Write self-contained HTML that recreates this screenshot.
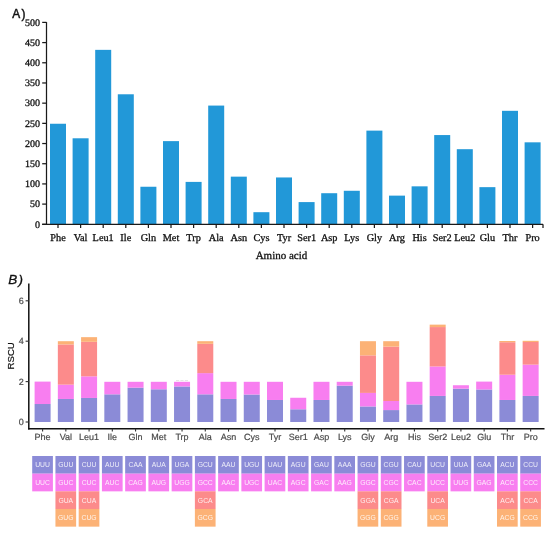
<!DOCTYPE html><html><head><meta charset="utf-8"><style>html,body{margin:0;padding:0;background:#fff;width:550px;height:535px;overflow:hidden}svg{display:block;will-change:transform}</style></head><body>
<svg width="550" height="535" viewBox="0 0 550 535">
<rect width="550" height="535" fill="#fff"/>
<text transform="translate(12.2,18.1) scale(0.9,1)" x="0" y="0" font-family="Liberation Sans, sans-serif" font-size="13.2" letter-spacing="1.6" fill="#111" stroke="#111" stroke-width="0.5">A)</text>
<rect x="50.00" y="123.75" width="16.0" height="100.55" fill="#2298d8"/>
<rect x="72.60" y="138.29" width="16.0" height="86.01" fill="#2298d8"/>
<rect x="95.20" y="49.86" width="16.0" height="174.44" fill="#2298d8"/>
<rect x="117.80" y="94.28" width="16.0" height="130.02" fill="#2298d8"/>
<rect x="140.40" y="186.75" width="16.0" height="37.55" fill="#2298d8"/>
<rect x="163.00" y="141.12" width="16.0" height="83.18" fill="#2298d8"/>
<rect x="185.60" y="181.90" width="16.0" height="42.40" fill="#2298d8"/>
<rect x="208.20" y="105.58" width="16.0" height="118.72" fill="#2298d8"/>
<rect x="230.80" y="176.65" width="16.0" height="47.65" fill="#2298d8"/>
<rect x="253.40" y="212.19" width="16.0" height="12.11" fill="#2298d8"/>
<rect x="276.00" y="177.46" width="16.0" height="46.84" fill="#2298d8"/>
<rect x="298.60" y="202.09" width="16.0" height="22.21" fill="#2298d8"/>
<rect x="321.20" y="193.21" width="16.0" height="31.09" fill="#2298d8"/>
<rect x="343.80" y="190.78" width="16.0" height="33.52" fill="#2298d8"/>
<rect x="366.40" y="130.62" width="16.0" height="93.68" fill="#2298d8"/>
<rect x="389.00" y="195.63" width="16.0" height="28.67" fill="#2298d8"/>
<rect x="411.60" y="186.34" width="16.0" height="37.96" fill="#2298d8"/>
<rect x="434.20" y="135.06" width="16.0" height="89.24" fill="#2298d8"/>
<rect x="456.80" y="149.19" width="16.0" height="75.11" fill="#2298d8"/>
<rect x="479.40" y="187.15" width="16.0" height="37.15" fill="#2298d8"/>
<rect x="502.00" y="110.83" width="16.0" height="113.47" fill="#2298d8"/>
<rect x="524.60" y="142.33" width="16.0" height="81.97" fill="#2298d8"/>
<g stroke="#1a1a1a" stroke-width="1.25" fill="none">
<line x1="46.5" y1="22.1" x2="46.5" y2="224.3"/>
<line x1="42.2" y1="224.3" x2="543" y2="224.3"/>
<line x1="42.2" y1="224.30" x2="46.5" y2="224.30"/>
<line x1="42.2" y1="204.11" x2="46.5" y2="204.11"/>
<line x1="42.2" y1="183.92" x2="46.5" y2="183.92"/>
<line x1="42.2" y1="163.73" x2="46.5" y2="163.73"/>
<line x1="42.2" y1="143.54" x2="46.5" y2="143.54"/>
<line x1="42.2" y1="123.35" x2="46.5" y2="123.35"/>
<line x1="42.2" y1="103.16" x2="46.5" y2="103.16"/>
<line x1="42.2" y1="82.97" x2="46.5" y2="82.97"/>
<line x1="42.2" y1="62.78" x2="46.5" y2="62.78"/>
<line x1="42.2" y1="42.59" x2="46.5" y2="42.59"/>
<line x1="42.2" y1="22.40" x2="46.5" y2="22.40"/>
<line x1="58.00" y1="224.3" x2="58.00" y2="228"/>
<line x1="80.60" y1="224.3" x2="80.60" y2="228"/>
<line x1="103.20" y1="224.3" x2="103.20" y2="228"/>
<line x1="125.80" y1="224.3" x2="125.80" y2="228"/>
<line x1="148.40" y1="224.3" x2="148.40" y2="228"/>
<line x1="171.00" y1="224.3" x2="171.00" y2="228"/>
<line x1="193.60" y1="224.3" x2="193.60" y2="228"/>
<line x1="216.20" y1="224.3" x2="216.20" y2="228"/>
<line x1="238.80" y1="224.3" x2="238.80" y2="228"/>
<line x1="261.40" y1="224.3" x2="261.40" y2="228"/>
<line x1="284.00" y1="224.3" x2="284.00" y2="228"/>
<line x1="306.60" y1="224.3" x2="306.60" y2="228"/>
<line x1="329.20" y1="224.3" x2="329.20" y2="228"/>
<line x1="351.80" y1="224.3" x2="351.80" y2="228"/>
<line x1="374.40" y1="224.3" x2="374.40" y2="228"/>
<line x1="397.00" y1="224.3" x2="397.00" y2="228"/>
<line x1="419.60" y1="224.3" x2="419.60" y2="228"/>
<line x1="442.20" y1="224.3" x2="442.20" y2="228"/>
<line x1="464.80" y1="224.3" x2="464.80" y2="228"/>
<line x1="487.40" y1="224.3" x2="487.40" y2="228"/>
<line x1="510.00" y1="224.3" x2="510.00" y2="228"/>
<line x1="532.60" y1="224.3" x2="532.60" y2="228"/>
<line x1="543" y1="224.3" x2="543" y2="228"/>
</g>
<g font-family="Liberation Serif, serif" font-size="10" fill="#111" stroke="#111" stroke-width="0.3" text-rendering="geometricPrecision" text-anchor="end">
<text x="40" y="227.60">0</text>
<text x="40" y="207.41">50</text>
<text x="40" y="187.22">100</text>
<text x="40" y="167.03">150</text>
<text x="40" y="146.84">200</text>
<text x="40" y="126.65">250</text>
<text x="40" y="106.46">300</text>
<text x="40" y="86.27">350</text>
<text x="40" y="66.08">400</text>
<text x="40" y="45.89">450</text>
<text x="40" y="25.70">500</text>
</g>
<g font-family="Liberation Serif, serif" font-size="10.3" fill="#111" stroke="#111" stroke-width="0.3" text-rendering="geometricPrecision" text-anchor="middle">
<text x="58.00" y="240.5">Phe</text>
<text x="80.60" y="240.5">Val</text>
<text x="103.20" y="240.5">Leu1</text>
<text x="125.80" y="240.5">Ile</text>
<text x="148.40" y="240.5">Gln</text>
<text x="171.00" y="240.5">Met</text>
<text x="193.60" y="240.5">Trp</text>
<text x="216.20" y="240.5">Ala</text>
<text x="238.80" y="240.5">Asn</text>
<text x="261.40" y="240.5">Cys</text>
<text x="284.00" y="240.5">Tyr</text>
<text x="306.60" y="240.5">Ser1</text>
<text x="329.20" y="240.5">Asp</text>
<text x="351.80" y="240.5">Lys</text>
<text x="374.40" y="240.5">Gly</text>
<text x="397.00" y="240.5">Arg</text>
<text x="419.60" y="240.5">His</text>
<text x="442.20" y="240.5">Ser2</text>
<text x="464.80" y="240.5">Leu2</text>
<text x="487.40" y="240.5">Glu</text>
<text x="510.00" y="240.5">Thr</text>
<text x="532.60" y="240.5">Pro</text>
</g>
<text x="281.5" y="259" font-family="Liberation Serif, serif" font-size="11" fill="#111" stroke="#111" stroke-width="0.3" text-rendering="geometricPrecision" text-anchor="middle">Amino acid</text>
<text x="8.3" y="283.8" font-family="Liberation Sans, sans-serif" font-style="italic" font-size="13.5" letter-spacing="1.2" fill="#111" stroke="#111" stroke-width="0.3">B)</text>
<rect x="34.60" y="404.02" width="16.0" height="17.98" fill="#8b8bd7"/>
<rect x="34.60" y="381.60" width="16.0" height="22.42" fill="#f87ef0"/>
<rect x="57.84" y="398.97" width="16.0" height="23.03" fill="#8b8bd7"/>
<rect x="57.84" y="384.63" width="16.0" height="14.34" fill="#f87ef0"/>
<rect x="57.84" y="344.43" width="16.0" height="40.20" fill="#fc8b8b"/>
<rect x="57.84" y="341.20" width="16.0" height="3.23" fill="#fcb276"/>
<rect x="81.08" y="397.96" width="16.0" height="24.04" fill="#8b8bd7"/>
<rect x="81.08" y="376.35" width="16.0" height="21.61" fill="#f87ef0"/>
<rect x="81.08" y="341.81" width="16.0" height="34.54" fill="#fc8b8b"/>
<rect x="81.08" y="337.16" width="16.0" height="4.65" fill="#fcb276"/>
<rect x="104.32" y="394.33" width="16.0" height="27.67" fill="#8b8bd7"/>
<rect x="104.32" y="381.80" width="16.0" height="12.52" fill="#f87ef0"/>
<rect x="127.56" y="387.66" width="16.0" height="34.34" fill="#8b8bd7"/>
<rect x="127.56" y="381.80" width="16.0" height="5.86" fill="#f87ef0"/>
<rect x="150.80" y="389.28" width="16.0" height="32.72" fill="#8b8bd7"/>
<rect x="150.80" y="381.80" width="16.0" height="7.47" fill="#f87ef0"/>
<rect x="174.04" y="386.45" width="16.0" height="35.55" fill="#8b8bd7"/>
<rect x="174.04" y="381.80" width="16.0" height="4.65" fill="#f87ef0"/>
<rect x="197.28" y="394.33" width="16.0" height="27.67" fill="#8b8bd7"/>
<rect x="197.28" y="373.12" width="16.0" height="21.21" fill="#f87ef0"/>
<rect x="197.28" y="343.83" width="16.0" height="29.29" fill="#fc8b8b"/>
<rect x="197.28" y="341.20" width="16.0" height="2.63" fill="#fcb276"/>
<rect x="220.52" y="398.97" width="16.0" height="23.03" fill="#8b8bd7"/>
<rect x="220.52" y="381.80" width="16.0" height="17.17" fill="#f87ef0"/>
<rect x="243.76" y="394.53" width="16.0" height="27.47" fill="#8b8bd7"/>
<rect x="243.76" y="381.80" width="16.0" height="12.73" fill="#f87ef0"/>
<rect x="267.00" y="399.98" width="16.0" height="22.02" fill="#8b8bd7"/>
<rect x="267.00" y="381.80" width="16.0" height="18.18" fill="#f87ef0"/>
<rect x="290.24" y="409.27" width="16.0" height="12.73" fill="#8b8bd7"/>
<rect x="290.24" y="397.76" width="16.0" height="11.51" fill="#f87ef0"/>
<rect x="313.48" y="399.98" width="16.0" height="22.02" fill="#8b8bd7"/>
<rect x="313.48" y="381.80" width="16.0" height="18.18" fill="#f87ef0"/>
<rect x="336.72" y="385.64" width="16.0" height="36.36" fill="#8b8bd7"/>
<rect x="336.72" y="381.80" width="16.0" height="3.84" fill="#f87ef0"/>
<rect x="359.96" y="406.45" width="16.0" height="15.55" fill="#8b8bd7"/>
<rect x="359.96" y="392.91" width="16.0" height="13.53" fill="#f87ef0"/>
<rect x="359.96" y="355.34" width="16.0" height="37.57" fill="#fc8b8b"/>
<rect x="359.96" y="341.20" width="16.0" height="14.14" fill="#fcb276"/>
<rect x="383.20" y="410.08" width="16.0" height="11.92" fill="#8b8bd7"/>
<rect x="383.20" y="400.99" width="16.0" height="9.09" fill="#f87ef0"/>
<rect x="383.20" y="346.65" width="16.0" height="54.34" fill="#fc8b8b"/>
<rect x="383.20" y="341.20" width="16.0" height="5.45" fill="#fcb276"/>
<rect x="406.44" y="404.43" width="16.0" height="17.57" fill="#8b8bd7"/>
<rect x="406.44" y="381.80" width="16.0" height="22.62" fill="#f87ef0"/>
<rect x="429.68" y="395.94" width="16.0" height="26.06" fill="#8b8bd7"/>
<rect x="429.68" y="366.45" width="16.0" height="29.49" fill="#f87ef0"/>
<rect x="429.68" y="327.06" width="16.0" height="39.39" fill="#fc8b8b"/>
<rect x="429.68" y="324.64" width="16.0" height="2.42" fill="#fcb276"/>
<rect x="452.92" y="388.67" width="16.0" height="33.33" fill="#8b8bd7"/>
<rect x="452.92" y="385.24" width="16.0" height="3.43" fill="#f87ef0"/>
<rect x="476.16" y="389.48" width="16.0" height="32.52" fill="#8b8bd7"/>
<rect x="476.16" y="381.60" width="16.0" height="7.88" fill="#f87ef0"/>
<rect x="499.40" y="399.98" width="16.0" height="22.02" fill="#8b8bd7"/>
<rect x="499.40" y="374.73" width="16.0" height="25.25" fill="#f87ef0"/>
<rect x="499.40" y="342.21" width="16.0" height="32.52" fill="#fc8b8b"/>
<rect x="499.40" y="341.00" width="16.0" height="1.21" fill="#fcb276"/>
<rect x="522.64" y="395.94" width="16.0" height="26.06" fill="#8b8bd7"/>
<rect x="522.64" y="364.63" width="16.0" height="31.31" fill="#f87ef0"/>
<rect x="522.64" y="342.01" width="16.0" height="22.62" fill="#fc8b8b"/>
<rect x="522.64" y="340.80" width="16.0" height="1.21" fill="#fcb276"/>
<line x1="176" y1="380.6" x2="188" y2="380.6" stroke="#999" stroke-opacity="0.4" stroke-width="0.7" stroke-dasharray="3.2 1.2"/>
<g stroke="#111" stroke-width="1.5" fill="none">
<line x1="28.8" y1="283.5" x2="28.8" y2="429.4"/>
<line x1="28.05" y1="428.65" x2="544.5" y2="428.65"/>
</g><g stroke="#333" stroke-width="1.1" fill="none">
<line x1="25.6" y1="422.00" x2="29" y2="422.00"/>
<line x1="25.6" y1="381.60" x2="29" y2="381.60"/>
<line x1="25.6" y1="341.20" x2="29" y2="341.20"/>
<line x1="25.6" y1="300.80" x2="29" y2="300.80"/>
<line x1="42.60" y1="428.7" x2="42.60" y2="431.6"/>
<line x1="65.84" y1="428.7" x2="65.84" y2="431.6"/>
<line x1="89.08" y1="428.7" x2="89.08" y2="431.6"/>
<line x1="112.32" y1="428.7" x2="112.32" y2="431.6"/>
<line x1="135.56" y1="428.7" x2="135.56" y2="431.6"/>
<line x1="158.80" y1="428.7" x2="158.80" y2="431.6"/>
<line x1="182.04" y1="428.7" x2="182.04" y2="431.6"/>
<line x1="205.28" y1="428.7" x2="205.28" y2="431.6"/>
<line x1="228.52" y1="428.7" x2="228.52" y2="431.6"/>
<line x1="251.76" y1="428.7" x2="251.76" y2="431.6"/>
<line x1="275.00" y1="428.7" x2="275.00" y2="431.6"/>
<line x1="298.24" y1="428.7" x2="298.24" y2="431.6"/>
<line x1="321.48" y1="428.7" x2="321.48" y2="431.6"/>
<line x1="344.72" y1="428.7" x2="344.72" y2="431.6"/>
<line x1="367.96" y1="428.7" x2="367.96" y2="431.6"/>
<line x1="391.20" y1="428.7" x2="391.20" y2="431.6"/>
<line x1="414.44" y1="428.7" x2="414.44" y2="431.6"/>
<line x1="437.68" y1="428.7" x2="437.68" y2="431.6"/>
<line x1="460.92" y1="428.7" x2="460.92" y2="431.6"/>
<line x1="484.16" y1="428.7" x2="484.16" y2="431.6"/>
<line x1="507.40" y1="428.7" x2="507.40" y2="431.6"/>
<line x1="530.64" y1="428.7" x2="530.64" y2="431.6"/>
</g>
<g font-family="Liberation Sans, sans-serif" font-size="9" fill="#4a4a4a" stroke="#4a4a4a" stroke-width="0.2" text-rendering="geometricPrecision" text-anchor="end">
<text x="23.8" y="425.20">0</text>
<text x="23.8" y="384.80">2</text>
<text x="23.8" y="344.40">4</text>
<text x="23.8" y="304.00">6</text>
</g>
<text transform="translate(14.0,355.8) rotate(-90)" font-family="Liberation Sans, sans-serif" font-size="9.6" fill="#111" stroke="#111" stroke-width="0.2" text-anchor="middle">RSCU</text>
<g font-family="Liberation Sans, sans-serif" font-size="9" fill="#4a4a4a" stroke="#4a4a4a" stroke-width="0.2" text-rendering="geometricPrecision" text-anchor="middle">
<text x="42.60" y="439.6">Phe</text>
<text x="65.84" y="439.6">Val</text>
<text x="89.08" y="439.6">Leu1</text>
<text x="112.32" y="439.6">Ile</text>
<text x="135.56" y="439.6">Gln</text>
<text x="158.80" y="439.6">Met</text>
<text x="182.04" y="439.6">Trp</text>
<text x="205.28" y="439.6">Ala</text>
<text x="228.52" y="439.6">Asn</text>
<text x="251.76" y="439.6">Cys</text>
<text x="275.00" y="439.6">Tyr</text>
<text x="298.24" y="439.6">Ser1</text>
<text x="321.48" y="439.6">Asp</text>
<text x="344.72" y="439.6">Lys</text>
<text x="367.96" y="439.6">Gly</text>
<text x="391.20" y="439.6">Arg</text>
<text x="414.44" y="439.6">His</text>
<text x="437.68" y="439.6">Ser2</text>
<text x="460.92" y="439.6">Leu2</text>
<text x="484.16" y="439.6">Glu</text>
<text x="507.40" y="439.6">Thr</text>
<text x="530.64" y="439.6">Pro</text>
</g>
<rect x="32.20" y="456.00" width="20.7" height="17.7" fill="#8b8bd7"/>
<rect x="32.20" y="473.65" width="20.7" height="17.7" fill="#f87ef0"/>
<rect x="55.44" y="456.00" width="20.7" height="17.7" fill="#8b8bd7"/>
<rect x="55.44" y="473.65" width="20.7" height="17.7" fill="#f87ef0"/>
<rect x="55.44" y="491.30" width="20.7" height="17.7" fill="#fc8b8b"/>
<rect x="55.44" y="508.95" width="20.7" height="17.7" fill="#fcb276"/>
<rect x="78.68" y="456.00" width="20.7" height="17.7" fill="#8b8bd7"/>
<rect x="78.68" y="473.65" width="20.7" height="17.7" fill="#f87ef0"/>
<rect x="78.68" y="491.30" width="20.7" height="17.7" fill="#fc8b8b"/>
<rect x="78.68" y="508.95" width="20.7" height="17.7" fill="#fcb276"/>
<rect x="101.92" y="456.00" width="20.7" height="17.7" fill="#8b8bd7"/>
<rect x="101.92" y="473.65" width="20.7" height="17.7" fill="#f87ef0"/>
<rect x="125.16" y="456.00" width="20.7" height="17.7" fill="#8b8bd7"/>
<rect x="125.16" y="473.65" width="20.7" height="17.7" fill="#f87ef0"/>
<rect x="148.40" y="456.00" width="20.7" height="17.7" fill="#8b8bd7"/>
<rect x="148.40" y="473.65" width="20.7" height="17.7" fill="#f87ef0"/>
<rect x="171.64" y="456.00" width="20.7" height="17.7" fill="#8b8bd7"/>
<rect x="171.64" y="473.65" width="20.7" height="17.7" fill="#f87ef0"/>
<rect x="194.88" y="456.00" width="20.7" height="17.7" fill="#8b8bd7"/>
<rect x="194.88" y="473.65" width="20.7" height="17.7" fill="#f87ef0"/>
<rect x="194.88" y="491.30" width="20.7" height="17.7" fill="#fc8b8b"/>
<rect x="194.88" y="508.95" width="20.7" height="17.7" fill="#fcb276"/>
<rect x="218.12" y="456.00" width="20.7" height="17.7" fill="#8b8bd7"/>
<rect x="218.12" y="473.65" width="20.7" height="17.7" fill="#f87ef0"/>
<rect x="241.36" y="456.00" width="20.7" height="17.7" fill="#8b8bd7"/>
<rect x="241.36" y="473.65" width="20.7" height="17.7" fill="#f87ef0"/>
<rect x="264.60" y="456.00" width="20.7" height="17.7" fill="#8b8bd7"/>
<rect x="264.60" y="473.65" width="20.7" height="17.7" fill="#f87ef0"/>
<rect x="287.84" y="456.00" width="20.7" height="17.7" fill="#8b8bd7"/>
<rect x="287.84" y="473.65" width="20.7" height="17.7" fill="#f87ef0"/>
<rect x="311.08" y="456.00" width="20.7" height="17.7" fill="#8b8bd7"/>
<rect x="311.08" y="473.65" width="20.7" height="17.7" fill="#f87ef0"/>
<rect x="334.32" y="456.00" width="20.7" height="17.7" fill="#8b8bd7"/>
<rect x="334.32" y="473.65" width="20.7" height="17.7" fill="#f87ef0"/>
<rect x="357.56" y="456.00" width="20.7" height="17.7" fill="#8b8bd7"/>
<rect x="357.56" y="473.65" width="20.7" height="17.7" fill="#f87ef0"/>
<rect x="357.56" y="491.30" width="20.7" height="17.7" fill="#fc8b8b"/>
<rect x="357.56" y="508.95" width="20.7" height="17.7" fill="#fcb276"/>
<rect x="380.80" y="456.00" width="20.7" height="17.7" fill="#8b8bd7"/>
<rect x="380.80" y="473.65" width="20.7" height="17.7" fill="#f87ef0"/>
<rect x="380.80" y="491.30" width="20.7" height="17.7" fill="#fc8b8b"/>
<rect x="380.80" y="508.95" width="20.7" height="17.7" fill="#fcb276"/>
<rect x="404.04" y="456.00" width="20.7" height="17.7" fill="#8b8bd7"/>
<rect x="404.04" y="473.65" width="20.7" height="17.7" fill="#f87ef0"/>
<rect x="427.28" y="456.00" width="20.7" height="17.7" fill="#8b8bd7"/>
<rect x="427.28" y="473.65" width="20.7" height="17.7" fill="#f87ef0"/>
<rect x="427.28" y="491.30" width="20.7" height="17.7" fill="#fc8b8b"/>
<rect x="427.28" y="508.95" width="20.7" height="17.7" fill="#fcb276"/>
<rect x="450.52" y="456.00" width="20.7" height="17.7" fill="#8b8bd7"/>
<rect x="450.52" y="473.65" width="20.7" height="17.7" fill="#f87ef0"/>
<rect x="473.76" y="456.00" width="20.7" height="17.7" fill="#8b8bd7"/>
<rect x="473.76" y="473.65" width="20.7" height="17.7" fill="#f87ef0"/>
<rect x="497.00" y="456.00" width="20.7" height="17.7" fill="#8b8bd7"/>
<rect x="497.00" y="473.65" width="20.7" height="17.7" fill="#f87ef0"/>
<rect x="497.00" y="491.30" width="20.7" height="17.7" fill="#fc8b8b"/>
<rect x="497.00" y="508.95" width="20.7" height="17.7" fill="#fcb276"/>
<rect x="520.24" y="456.00" width="20.7" height="17.7" fill="#8b8bd7"/>
<rect x="520.24" y="473.65" width="20.7" height="17.7" fill="#f87ef0"/>
<rect x="520.24" y="491.30" width="20.7" height="17.7" fill="#fc8b8b"/>
<rect x="520.24" y="508.95" width="20.7" height="17.7" fill="#fcb276"/>
<g font-family="Liberation Sans, sans-serif" font-size="6.8" fill="#fff" fill-opacity="0.85" text-anchor="middle">
<text x="42.55" y="467.40">UUU</text>
<text x="42.55" y="485.05">UUC</text>
<text x="65.79" y="467.40">GUU</text>
<text x="65.79" y="485.05">GUC</text>
<text x="65.79" y="502.70">GUA</text>
<text x="65.79" y="520.35">GUG</text>
<text x="89.03" y="467.40">CUU</text>
<text x="89.03" y="485.05">CUC</text>
<text x="89.03" y="502.70">CUA</text>
<text x="89.03" y="520.35">CUG</text>
<text x="112.27" y="467.40">AUU</text>
<text x="112.27" y="485.05">AUC</text>
<text x="135.51" y="467.40">CAA</text>
<text x="135.51" y="485.05">CAG</text>
<text x="158.75" y="467.40">AUA</text>
<text x="158.75" y="485.05">AUG</text>
<text x="181.99" y="467.40">UGA</text>
<text x="181.99" y="485.05">UGG</text>
<text x="205.23" y="467.40">GCU</text>
<text x="205.23" y="485.05">GCC</text>
<text x="205.23" y="502.70">GCA</text>
<text x="205.23" y="520.35">GCG</text>
<text x="228.47" y="467.40">AAU</text>
<text x="228.47" y="485.05">AAC</text>
<text x="251.71" y="467.40">UGU</text>
<text x="251.71" y="485.05">UGC</text>
<text x="274.95" y="467.40">UAU</text>
<text x="274.95" y="485.05">UAC</text>
<text x="298.19" y="467.40">AGU</text>
<text x="298.19" y="485.05">AGC</text>
<text x="321.43" y="467.40">GAU</text>
<text x="321.43" y="485.05">GAC</text>
<text x="344.67" y="467.40">AAA</text>
<text x="344.67" y="485.05">AAG</text>
<text x="367.91" y="467.40">GGU</text>
<text x="367.91" y="485.05">GGC</text>
<text x="367.91" y="502.70">GGA</text>
<text x="367.91" y="520.35">GGG</text>
<text x="391.15" y="467.40">CGU</text>
<text x="391.15" y="485.05">CGC</text>
<text x="391.15" y="502.70">CGA</text>
<text x="391.15" y="520.35">CGG</text>
<text x="414.39" y="467.40">CAU</text>
<text x="414.39" y="485.05">CAC</text>
<text x="437.63" y="467.40">UCU</text>
<text x="437.63" y="485.05">UCC</text>
<text x="437.63" y="502.70">UCA</text>
<text x="437.63" y="520.35">UCG</text>
<text x="460.87" y="467.40">UUA</text>
<text x="460.87" y="485.05">UUG</text>
<text x="484.11" y="467.40">GAA</text>
<text x="484.11" y="485.05">GAG</text>
<text x="507.35" y="467.40">ACU</text>
<text x="507.35" y="485.05">ACC</text>
<text x="507.35" y="502.70">ACA</text>
<text x="507.35" y="520.35">ACG</text>
<text x="530.59" y="467.40">CCU</text>
<text x="530.59" y="485.05">CCC</text>
<text x="530.59" y="502.70">CCA</text>
<text x="530.59" y="520.35">CCG</text>
</g>
</svg></body></html>
